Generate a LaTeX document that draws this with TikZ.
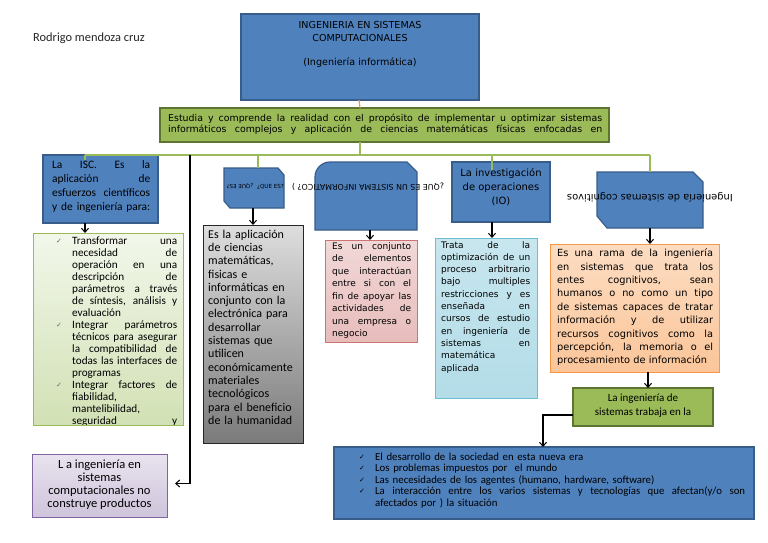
\documentclass[tikz,border=0pt]{standalone}
\usepackage{fontspec}
\usepackage{graphicx}
\setmainfont{DejaVu Sans}
\newfontfamily\carl{Carlito}
\newfontfamily\djv{DejaVu Sans}
\usetikzlibrary{arrows.meta,calc}
\definecolor{bfill}{HTML}{4F81BD}
\definecolor{bdraw}{HTML}{385D8A}
\definecolor{gfill}{HTML}{9BBB59}
\definecolor{gdraw}{HTML}{5E7530}
\definecolor{oline}{HTML}{F79646}
\definecolor{pinkd}{HTML}{C0504D}
\definecolor{cyand}{HTML}{6DBDD3}
\definecolor{purd}{HTML}{8064A2}
\newlength\jw
\newcommand\jl[1]{\leavevmode\hbox to \jw{\spaceskip=0.25em plus 1fil\relax #1}}
\newcommand\fs[2]{\fontsize{#1}{#2}\selectfont}
\begin{document}
\begin{tikzpicture}[x=1pt,y=-1pt,
  box/.style={anchor=north west, inner sep=0pt, outer sep=0pt},
  txt/.style={anchor=north west, inner sep=0pt, align=left, text=black},
  ctxt/.style={anchor=north, inner sep=0pt, align=center, text=black},
  ckm/.style={inner sep=0pt, font=\djv\fs{7}{7}},
  arr/.style={draw=black, line width=1.4pt, -{Straight Barb[length=4pt,width=7pt,line width=1pt]}},
  gline/.style={draw=gfill, line width=1.5pt},
  bshape/.style={fill=bfill, draw=bdraw, line width=1.2pt}]
\useasboundingbox (0,0) rectangle (768,543);
\fill[white] (0,0) rectangle (768,543);

% ---------- boxes ----------
\node[box, minimum width=238pt, minimum height=86pt, fill=bfill, draw=bdraw, line width=1.5pt] (top) at (241,14) {};
\node[box, minimum width=449pt, minimum height=34pt, fill=gfill, draw=gdraw, line width=1.5pt] (gtop) at (160,108) {};
\node[box, minimum width=115pt, minimum height=68pt, fill=bfill, draw=bdraw, line width=1.2pt] (lbox) at (43,155) {};
\node[box, minimum width=150pt, minimum height=192pt, top color=green!6!gfill!12!white, bottom color=gfill!45!white, draw=gfill, line width=1pt] (lst) at (33,233) {};
\node[box, minimum width=60pt, minimum height=40pt] (que) at (224,168) {};
\node[box, minimum width=100pt, minimum height=218pt, top color=black!13, bottom color=black!52, draw=black!85, line width=1pt] (gray) at (203,225) {};
\node[box, minimum width=102pt, minimum height=68pt] (hexa) at (315,162) {};
\node[box, minimum width=92pt, minimum height=102pt, top color=pinkd!22!white, bottom color=pinkd!38!white, draw=pinkd!80, line width=0.9pt] (pink) at (325,240) {};
\node[box, minimum width=98pt, minimum height=60pt, fill=bfill, draw=bdraw, line width=1.2pt] (io) at (452,162) {};
\node[box, minimum width=102pt, minimum height=160pt, top color=cyand!38!white, bottom color=cyand!52!white, draw=cyand, line width=1pt] (lblue) at (435,238) {};
\node[box, minimum width=106pt, minimum height=56pt] (cog) at (597,172) {};
\node[box, minimum width=169pt, minimum height=128pt, top color=oline!33!white, bottom color=oline!55!white, draw=oline, line width=1pt] (orange) at (550,244) {};
\node[box, minimum width=140pt, minimum height=38pt, fill=gfill, draw=gdraw, line width=1.5pt] (sgreen) at (573,388) {};
\node[box, minimum width=420pt, minimum height=72pt, fill=bfill, draw=bdraw, line width=1.5pt] (bblue) at (334,447) {};
\node[box, minimum width=135pt, minimum height=63pt, top color=purd!18!white, bottom color=purd!38!white, draw=purd, line width=1pt] (purple) at (32,454) {};

% custom blue shapes
\path[bshape] (que.north west) -- ([xshift=-6pt]que.north east) -- ([yshift=-7pt]que.north east)
  -- (que.south east) -- ([xshift=6pt]que.south west) -- ([yshift=7pt]que.south west) -- cycle;
\path[bshape] (hexa.south west) -- ([yshift=-15pt]hexa.north west) arc[start angle=180, end angle=90, radius=15pt]
  -- ([xshift=-10pt]hexa.north east) -- ([yshift=-10pt]hexa.north east) -- (hexa.south east) -- cycle;
\path[bshape] (cog.north west) -- ([xshift=-10pt]cog.north east) -- ([yshift=-10pt]cog.north east)
  -- (cog.south east) -- ([xshift=10pt]cog.south west) -- ([yshift=12pt]cog.south west) -- cycle;

% ---------- texts ----------
\node[anchor=west, inner sep=0pt, font=\carl\fs{12.4}{14}, text=black!85] (rod) at (33,38) {Rodrigo mendoza cruz};
\node[ctxt, font=\djv\fs{9.6}{12.3}] (toptxt) at (360,21.5) {INGENIERIA EN SISTEMAS\\COMPUTACIONALES\\[12.3pt](Ingeniería informática)};
\setlength\jw{434pt}
\node[txt, text width=434pt, font=\djv\fs{9.4}{10.8}] (gtoptxt) at (168,113.5) {%
\jl{Estudia y comprende la realidad con el propósito de implementar u optimizar sistemas}\\
\jl{informáticos complejos y aplicación de ciencias matemáticas físicas enfocadas en}};
\setlength\jw{98pt}
\node[txt, text width=99pt, font=\carl\fs{11.4}{14}] (lboxtxt) at (52,160) {%
\jl{La ISC. Es la}\\\jl{aplicación de}\\\jl{esfuerzos científicos}\\\jl{y de ingeniería para:}};
\setlength\jw{105pt}
\begin{scope}
\clip ([xshift=1pt,yshift=-1pt]lst.north west) rectangle ([xshift=-1pt,yshift=1pt]lst.south east);
\node[txt, text width=105pt, font=\carl\fs{11.2}{12}] (lsttxt) at (72,237) {%
\jl{Transformar una}\\\jl{necesidad de}\\\jl{operación en una}\\\jl{descripción de}\\
\jl{parámetros a través}\\\jl{de síntesis, análisis y}\\evaluación\\
\jl{Integrar parámetros}\\\jl{técnicos para asegurar}\\\jl{la compatibilidad de}\\
\jl{todas las interfaces de}\\programas\\
\jl{Integrar factores de}\\fiabilidad,\\mantelibilidad,\\\jl{seguridad y}};
\end{scope}
\node[ckm, text=black!60] (c1) at (59,241) {✓};
\node[ckm, text=black!60] (c2) at (59,325) {✓};
\node[ckm, text=black!60] (c3) at (59,385) {✓};

\node[inner sep=0pt, rotate=180, font=\djv\fs{5.6}{6}] (q1) at (240,186.5) {¿QUE ES?};
\node[inner sep=0pt, font=\djv\fs{5.6}{6}] (q1b) at (270.5,186.5) {¿QUE ES?};
\node[inner sep=0pt, rotate=180, font=\djv\fs{7.9}{9}] (q2) at (368,186.5) {¿QUE ES UN SISTEMA INFORMATICO? )};
\node[inner sep=0pt, rotate=180, font=\djv\fs{9.9}{12}] (q3) at (650,197) {Ingeniería de sistemas cognitivos};
\node[ctxt, font=\djv\fs{10}{14}] (iotxt) at (501,168) {La investigación\\de operaciones\\(IO)};

\node[txt, text width=95pt, font=\carl\fs{12}{13.3}] (graytxt) at (208,229.6) {%
Es la aplicación\\de ciencias\\matemáticas,\\fisicas e\\informáticas en\\conjunto con la\\electrónica para\\desarrollar\\sistemas que\\utilicen\\económicamente\\materiales\\tecnológicos\\para el beneficio\\de la humanidad};
\setlength\jw{79pt}
\node[txt, text width=79pt, font=\djv\fs{9}{12.5}] (pinktxt) at (332,242) {%
\jl{Es un conjunto}\\\jl{de elementos}\\\jl{que interactúan}\\\jl{entre si con el}\\\jl{fin de apoyar las}\\\jl{actividades de}\\\jl{una empresa o}\\negocio};
\setlength\jw{89pt}
\node[txt, text width=89pt, font=\djv\fs{9}{12.3}] (lbluetxt) at (441,241) {%
\jl{Trata de la}\\\jl{optimización de un}\\\jl{proceso arbitrario}\\\jl{bajo multiples}\\\jl{restricciones y es}\\\jl{enseñada en}\\\jl{cursos de estudio}\\\jl{en ingeniería de}\\\jl{sistemas en}\\matemática\\aplicada};
\setlength\jw{156pt}
\node[txt, text width=156pt, font=\djv\fs{9.8}{13.4}] (oratxt) at (557,248.6) {%
\jl{Es una rama de la ingeniería}\\\jl{en sistemas que trata los}\\\jl{entes cognitivos, sean}\\\jl{humanos o no como un tipo}\\\jl{de sistemas capaces de tratar}\\\jl{información y de utilizar}\\\jl{recursos cognitivos como la}\\\jl{percepción, la memoria o el}\\procesamiento de información};
\node[ctxt, font=\carl\fs{11}{14}] (sgreentxt) at (643,394) {La ingeniería de\\sistemas trabaja en la};
\setlength\jw{370pt}
\node[txt, text width=370pt, font=\carl\fs{10.8}{11.5}] (bbluetxt) at (375,452.3) {%
El desarrollo de la sociedad en esta nueva era\\
Los problemas impuestos por\ \ el mundo\\
Las necesidades de los agentes (humano, hardware, software)\\
\jl{La interacción entre los varios sistemas y tecnologías que afectan(y/o son}\\
afectados por ) la situación};
\node[ckm] (d1) at (362,457) {✓};
\node[ckm] (d2) at (362,468.5) {✓};
\node[ckm] (d3) at (362,480) {✓};
\node[ckm] (d4) at (362,491.5) {✓};
\node[ctxt, font=\carl\fs{12.5}{13.2}] (purtxt) at (99.5,459.4) {L a ingeniería en\\sistemas\\computacionales no\\construye productos};

% ---------- connectors ----------
\draw[oline, line width=1.2pt] (top.south) ++(-1,0) -- ([xshift=200pt]gtop.north west);
\coordinate (hl) at (85,155);
\coordinate (hr) at (650,155);
\coordinate (bt) at (190,155);
\draw[gline] ([xshift=200pt]gtop.south west) -- ([xshift=200pt]gtop.south west |- hl);
\draw[gline] (hl) -- (hr);
\draw[gline] ([xshift=42pt,yshift=-5pt]lbox.north west) -- ([xshift=42pt]lbox.north west |- hl);
\draw[gline] ([xshift=34pt]que.north west) -- ([xshift=34pt]que.north west |- hl);
\draw[gline] ([xshift=40pt,yshift=-8pt]io.north west) -- ([xshift=40pt]io.north west |- hl);
\draw[gline] ([xshift=53pt]cog.north west) -- (hr);

\draw[arr] ([xshift=42pt]lbox.south west) -- ([xshift=52pt]lst.north west);
\draw[arr] ([xshift=29pt]que.south west) -- ([xshift=50pt]gray.north west);
\draw[arr] ([xshift=55pt]hexa.south west) -- ([xshift=45pt]pink.north west);
\draw[arr] ([xshift=40pt]io.south west) -- ([xshift=57pt]lblue.north west);
\draw[arr] ([xshift=53pt]cog.south west) -- ([xshift=100pt]orange.north west);
\draw[arr] ([xshift=98pt]orange.south west) -- ([xshift=75pt]sgreen.north west);
\draw[arr] ([yshift=-8pt]sgreen.west) -| ([xshift=209pt]bblue.north west);
\draw[black, line width=1.1pt, -{Straight Barb[length=4pt,width=7pt,line width=1pt]}] (bt) |- ([xshift=8pt,yshift=2pt]purple.east);
\end{tikzpicture}
\end{document}
